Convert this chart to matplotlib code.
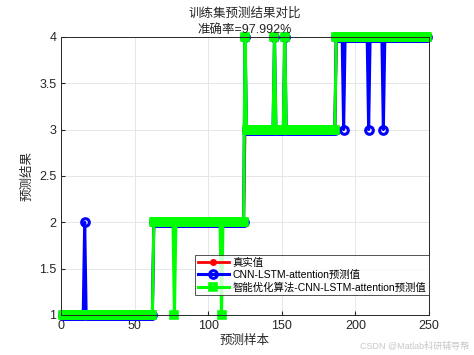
import matplotlib.pyplot as plt
import numpy as np

plt.rcParams['font.family'] = ['Liberation Sans', 'Noto Sans CJK SC']

# samples per true class (classes 1..4), read from the step positions
class_labels = [1, 2, 3, 4]
class_counts = [62, 62, 62, 63]

# misclassified samples: sample index -> predicted class
cnn_err_idx = [16, 125, 145, 152, 192, 209, 219]
cnn_err_val = [2, 4, 4, 4, 3, 3, 3]
opt_err_idx = [77, 109, 125, 145, 152]
opt_err_val = [1, 1, 4, 4, 4]

accuracy = 97.992

y_true = np.repeat(class_labels, class_counts)
n = len(y_true)
x = np.arange(1, n + 1)

y_cnn = y_true.copy()
y_cnn[np.array(cnn_err_idx) - 1] = cnn_err_val
y_opt = y_true.copy()
y_opt[np.array(opt_err_idx) - 1] = opt_err_val

fig = plt.figure(figsize=(4.74, 3.55), dpi=100)
ax = fig.add_axes([0.129, 0.113, 0.776, 0.783])

ax.plot(x, y_true, '-o', color='red', lw=2, markersize=4, label='真实值',
        clip_on=False)
ax.plot(x, y_cnn, '-o', color='blue', lw=2.2, markersize=5.5, mfc='none', mew=2.2,
        label='CNN-LSTM-attention预测值', clip_on=False)
ax.plot(x, y_opt, '-s', color='#00ff00', lw=2.2, markersize=5, mfc='none', mew=2.6,
        label='智能优化算法-CNN-LSTM-attention预测值', clip_on=False)

ax.set_xlim(0, 250)
ax.set_ylim(1, 4)
ax.set_xticks(np.arange(0, 251, 50))
ax.set_yticks(np.arange(1, 4.01, 0.5))
ax.set_yticklabels(['1', '1.5', '2', '2.5', '3', '3.5', '4'])
ax.grid(True, color='#e6e6e6', lw=0.7)
ax.set_axisbelow(True)
ax.tick_params(direction='in', labelsize=9, colors='#262626', length=3)
for s in ax.spines.values():
    s.set_color('#262626')
    s.set_linewidth(0.7)

ax.set_xlabel('预测样本', fontsize=9, color='#262626', labelpad=2)
ax.set_ylabel('预测结果', fontsize=9, color='#262626', labelpad=4)
ax.set_title('训练集预测结果对比\n准确率=' + f'{accuracy:.3f}%', fontsize=9,
             color='#262626', pad=3, linespacing=1.4)

leg = ax.legend(loc='lower right', bbox_to_anchor=(1.0, 0.07), fontsize=7.5,
                frameon=True, fancybox=False, edgecolor='#262626',
                borderpad=0.3, handlelength=3, handletextpad=0.3,
                labelspacing=0.2, borderaxespad=0)
leg.get_frame().set_linewidth(0.7)

fig.text(0.99, 0.01, 'CSDN @Matlab科研辅导帮', ha='right', va='bottom',
         fontsize=6.5, color='#c8c8c8')

fig.savefig('out.png', dpi=100)
